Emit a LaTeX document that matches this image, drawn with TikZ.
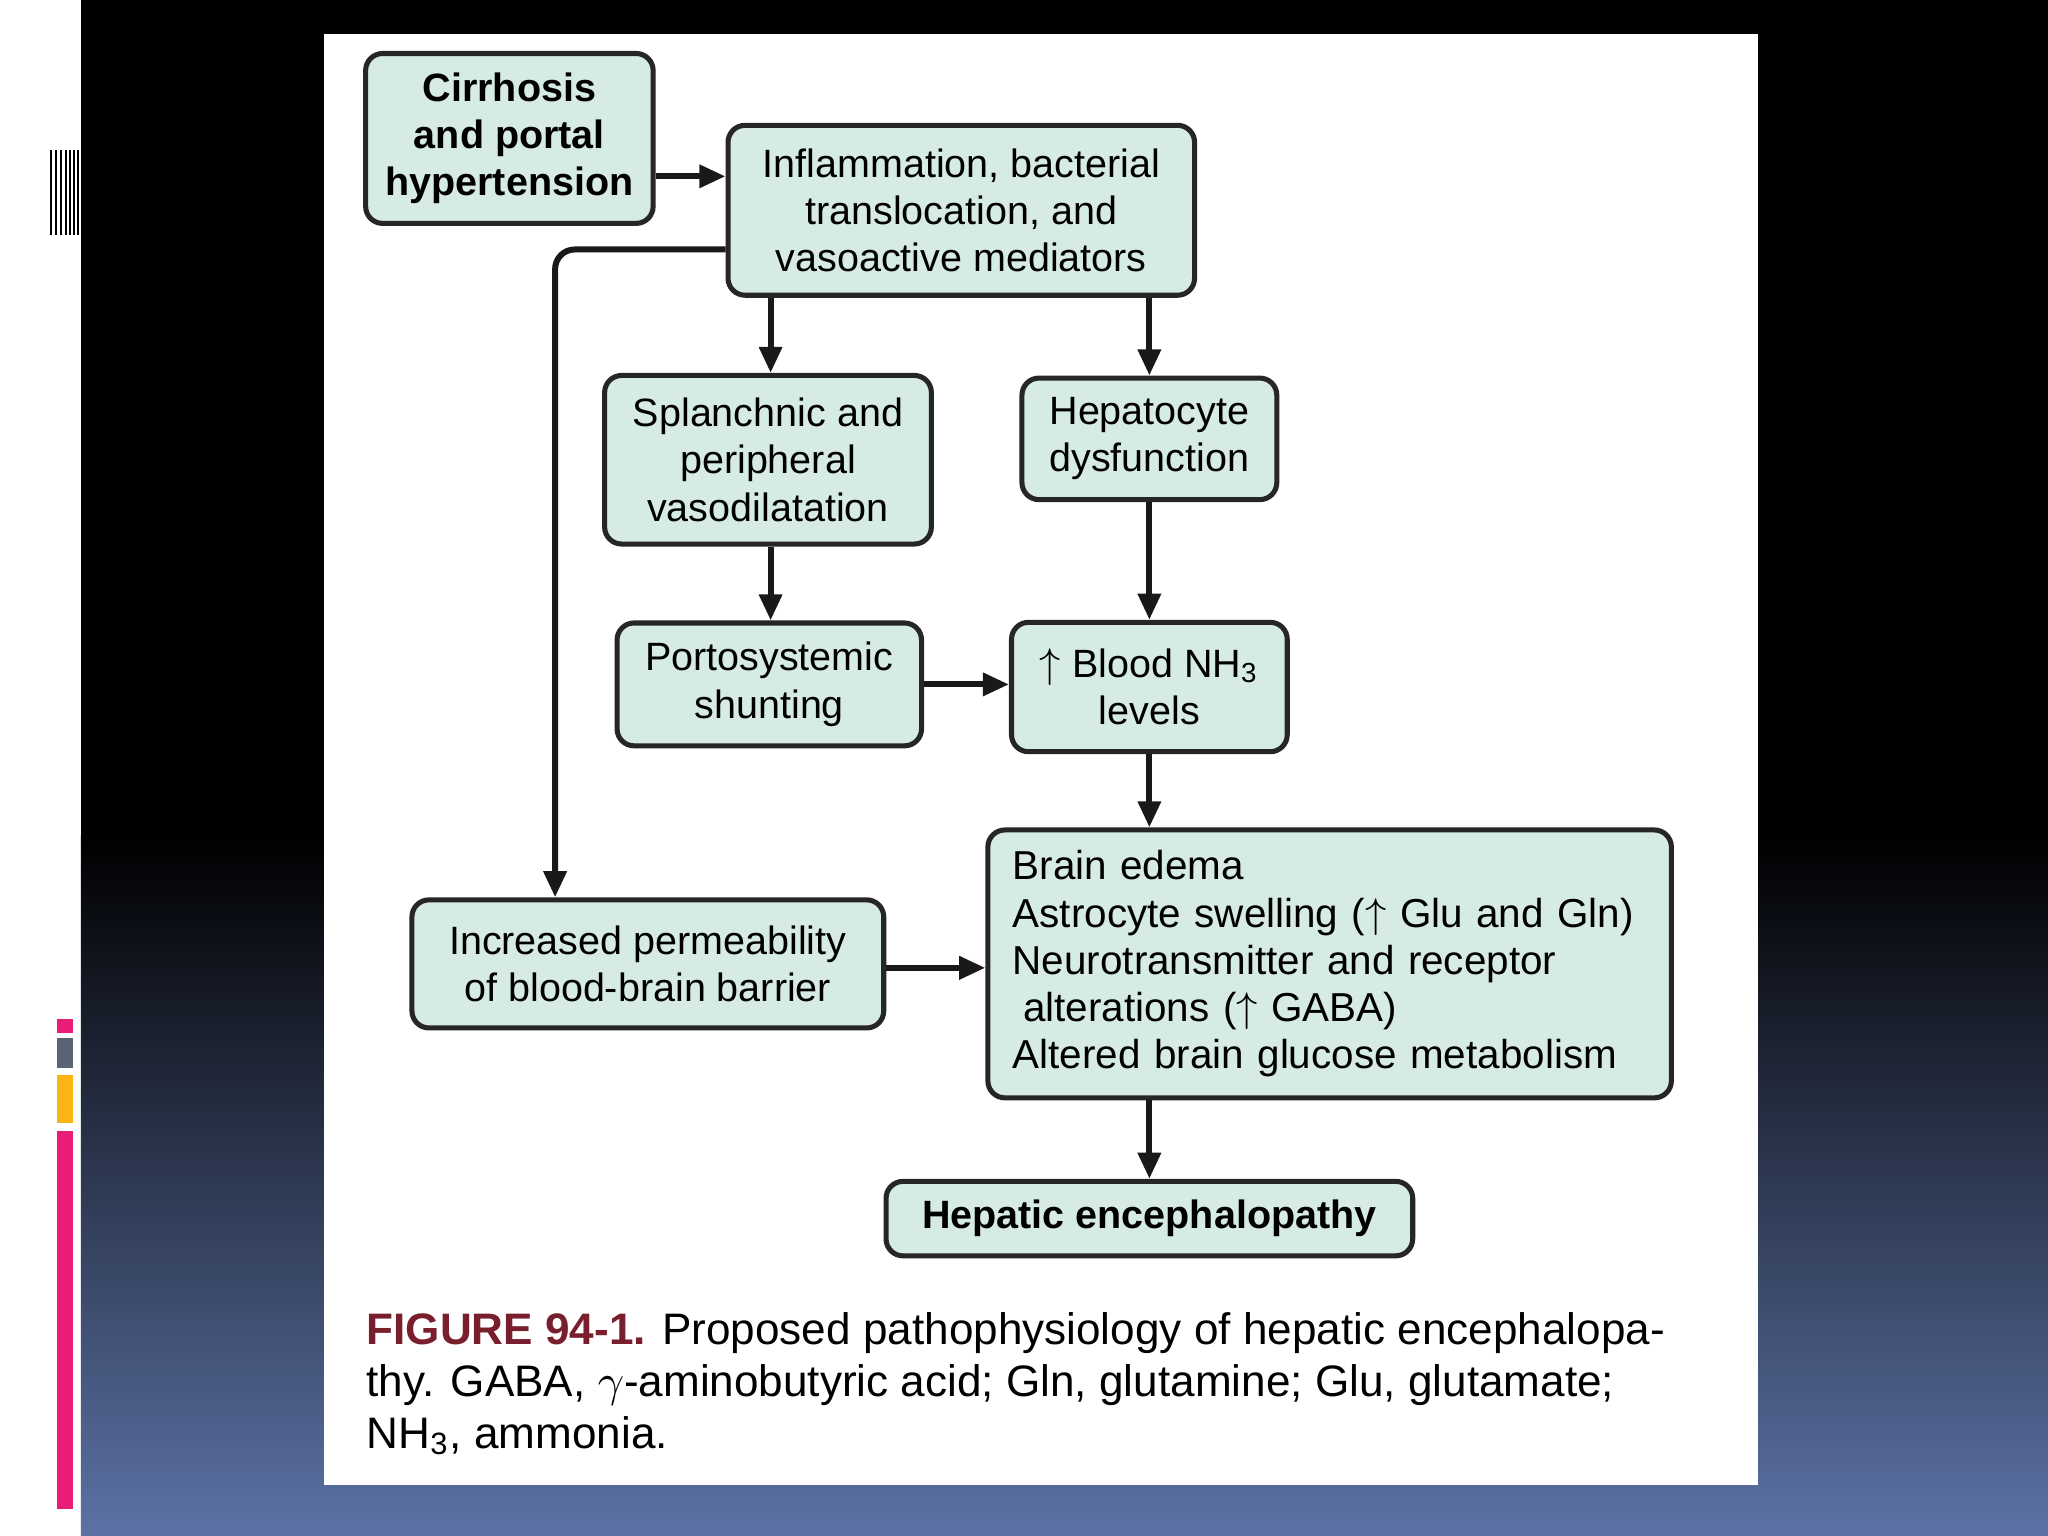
\documentclass[tikz,border=0pt]{standalone}
\usepackage{fontspec}
\setmainfont{Liberation Sans}
\usetikzlibrary{arrows.meta}
\definecolor{boxfill}{RGB}{214,235,226}
\definecolor{capred}{RGB}{120,30,45}
\definecolor{bgblue}{RGB}{92,114,165}
\definecolor{pinkbar}{RGB}{232,30,120}
\definecolor{graybar}{RGB}{90,100,115}
\definecolor{orangebar}{RGB}{250,180,20}
\begin{document}
\begin{tikzpicture}[x=0.01cm,y=-0.01cm,
  box/.style={draw=black!85,line width=1.1pt,fill=boxfill,rounded corners=0.13cm,align=center,
    font=\fontsize{8.6}{10.3}\selectfont,inner sep=0pt},
  arr/.style={-{Triangle[length=0.2cm,width=0.17cm]},line width=1.3pt,black!90}]
\useasboundingbox (0,0) rectangle (1568,1176);
\fill[white] (0,0) rectangle (62,1176);
\fill[black] (62,0) rectangle (1568,640);
\shade[top color=black,bottom color=bgblue] (62,640) rectangle (1568,1176);
\foreach \xx in {38,42,46,50,53,56,59} \fill[black] (\xx,115) rectangle ++(1.6,65);
\fill[pinkbar] (44,780) rectangle (56,791);
\fill[graybar] (44,795) rectangle (56,818);
\fill[orangebar] (44,823) rectangle (56,860);
\fill[pinkbar] (44,866) rectangle (56,1155);
\fill[white] (248,26) rectangle (1346,1137);

\node[box,minimum width=2.2cm,minimum height=1.3cm,font=\fontsize{8.6}{10.3}\selectfont\bfseries] (cir) at (390,106) {Cirrhosis\\and portal\\hypertension};
\node[box,minimum width=3.57cm,minimum height=1.3cm] (inf) at (736,161) {Inflammation, bacterial\\translocation, and\\vasoactive mediators};
\node[box,minimum width=2.5cm,minimum height=1.29cm] (spl) at (588,352) {Splanchnic and\\peripheral\\vasodilatation};
\node[box,minimum width=1.95cm,minimum height=0.93cm] (hep) at (880,336) {Hepatocyte\\dysfunction};
\node[box,minimum width=2.33cm,minimum height=0.94cm] (por) at (589,524) {Portosystemic\\shunting};
\node[box,minimum width=2.11cm,minimum height=0.99cm] (nh) at (880,526) {$\uparrow$ Blood NH\textsubscript{3}\\levels};
\node[box,minimum width=5.23cm,minimum height=2.05cm,align=left,inner xsep=0.19cm,text width=4.85cm,
  font=\fontsize{8.8}{10.3}\selectfont] (brn) at (1018,738) {Brain edema\\Astrocyte swelling ($\uparrow$ Glu and Gln)\\Neurotransmitter and receptor\\\hspace{0.8mm}alterations ($\uparrow$ GABA)\\Altered brain glucose metabolism};
\node[box,minimum width=3.61cm,minimum height=0.98cm] (inc) at (496,738) {Increased permeability\\of blood-brain barrier};
\node[box,minimum width=4.03cm,minimum height=0.57cm,font=\fontsize{8.6}{10.3}\selectfont\bfseries] (he) at (880,933) {Hepatic encephalopathy};

\draw[arr] (cir.east|-0,135) -- (inf.west|-0,135);
\draw[arr] (inf.south-|590,0) -- (spl.north-|590,0);
\draw[arr] (inf.south-|880,0) -- (hep.north);
\draw[arr,rounded corners=0.15cm] (inf.west|-0,191) -- (425,191) -- (inc.north-|425,0);
\draw[arr] (spl.south-|590,0) -- (por.north-|590,0);
\draw[arr] (hep.south) -- (nh.north);
\draw[arr] (por.east|-0,524) -- (nh.west|-0,524);
\draw[arr] (nh.south) -- (brn.north-|880,0);
\draw[arr] (inc.east|-0,741) -- (brn.west|-0,741);
\draw[arr] (brn.south-|880,0) -- (he.north);

\node[anchor=north west,align=left,inner sep=0pt,font=\fontsize{9.6}{11.3}\selectfont] (cap) at (280,1004)
 {{\color{capred}\bfseries FIGURE 94-1.} Proposed pathophysiology of hepatic encephalopa-\\thy. GABA, $\gamma$-aminobutyric acid; Gln, glutamine; Glu, glutamate;\\NH\textsubscript{3}, ammonia.};
\end{tikzpicture}
\end{document}
